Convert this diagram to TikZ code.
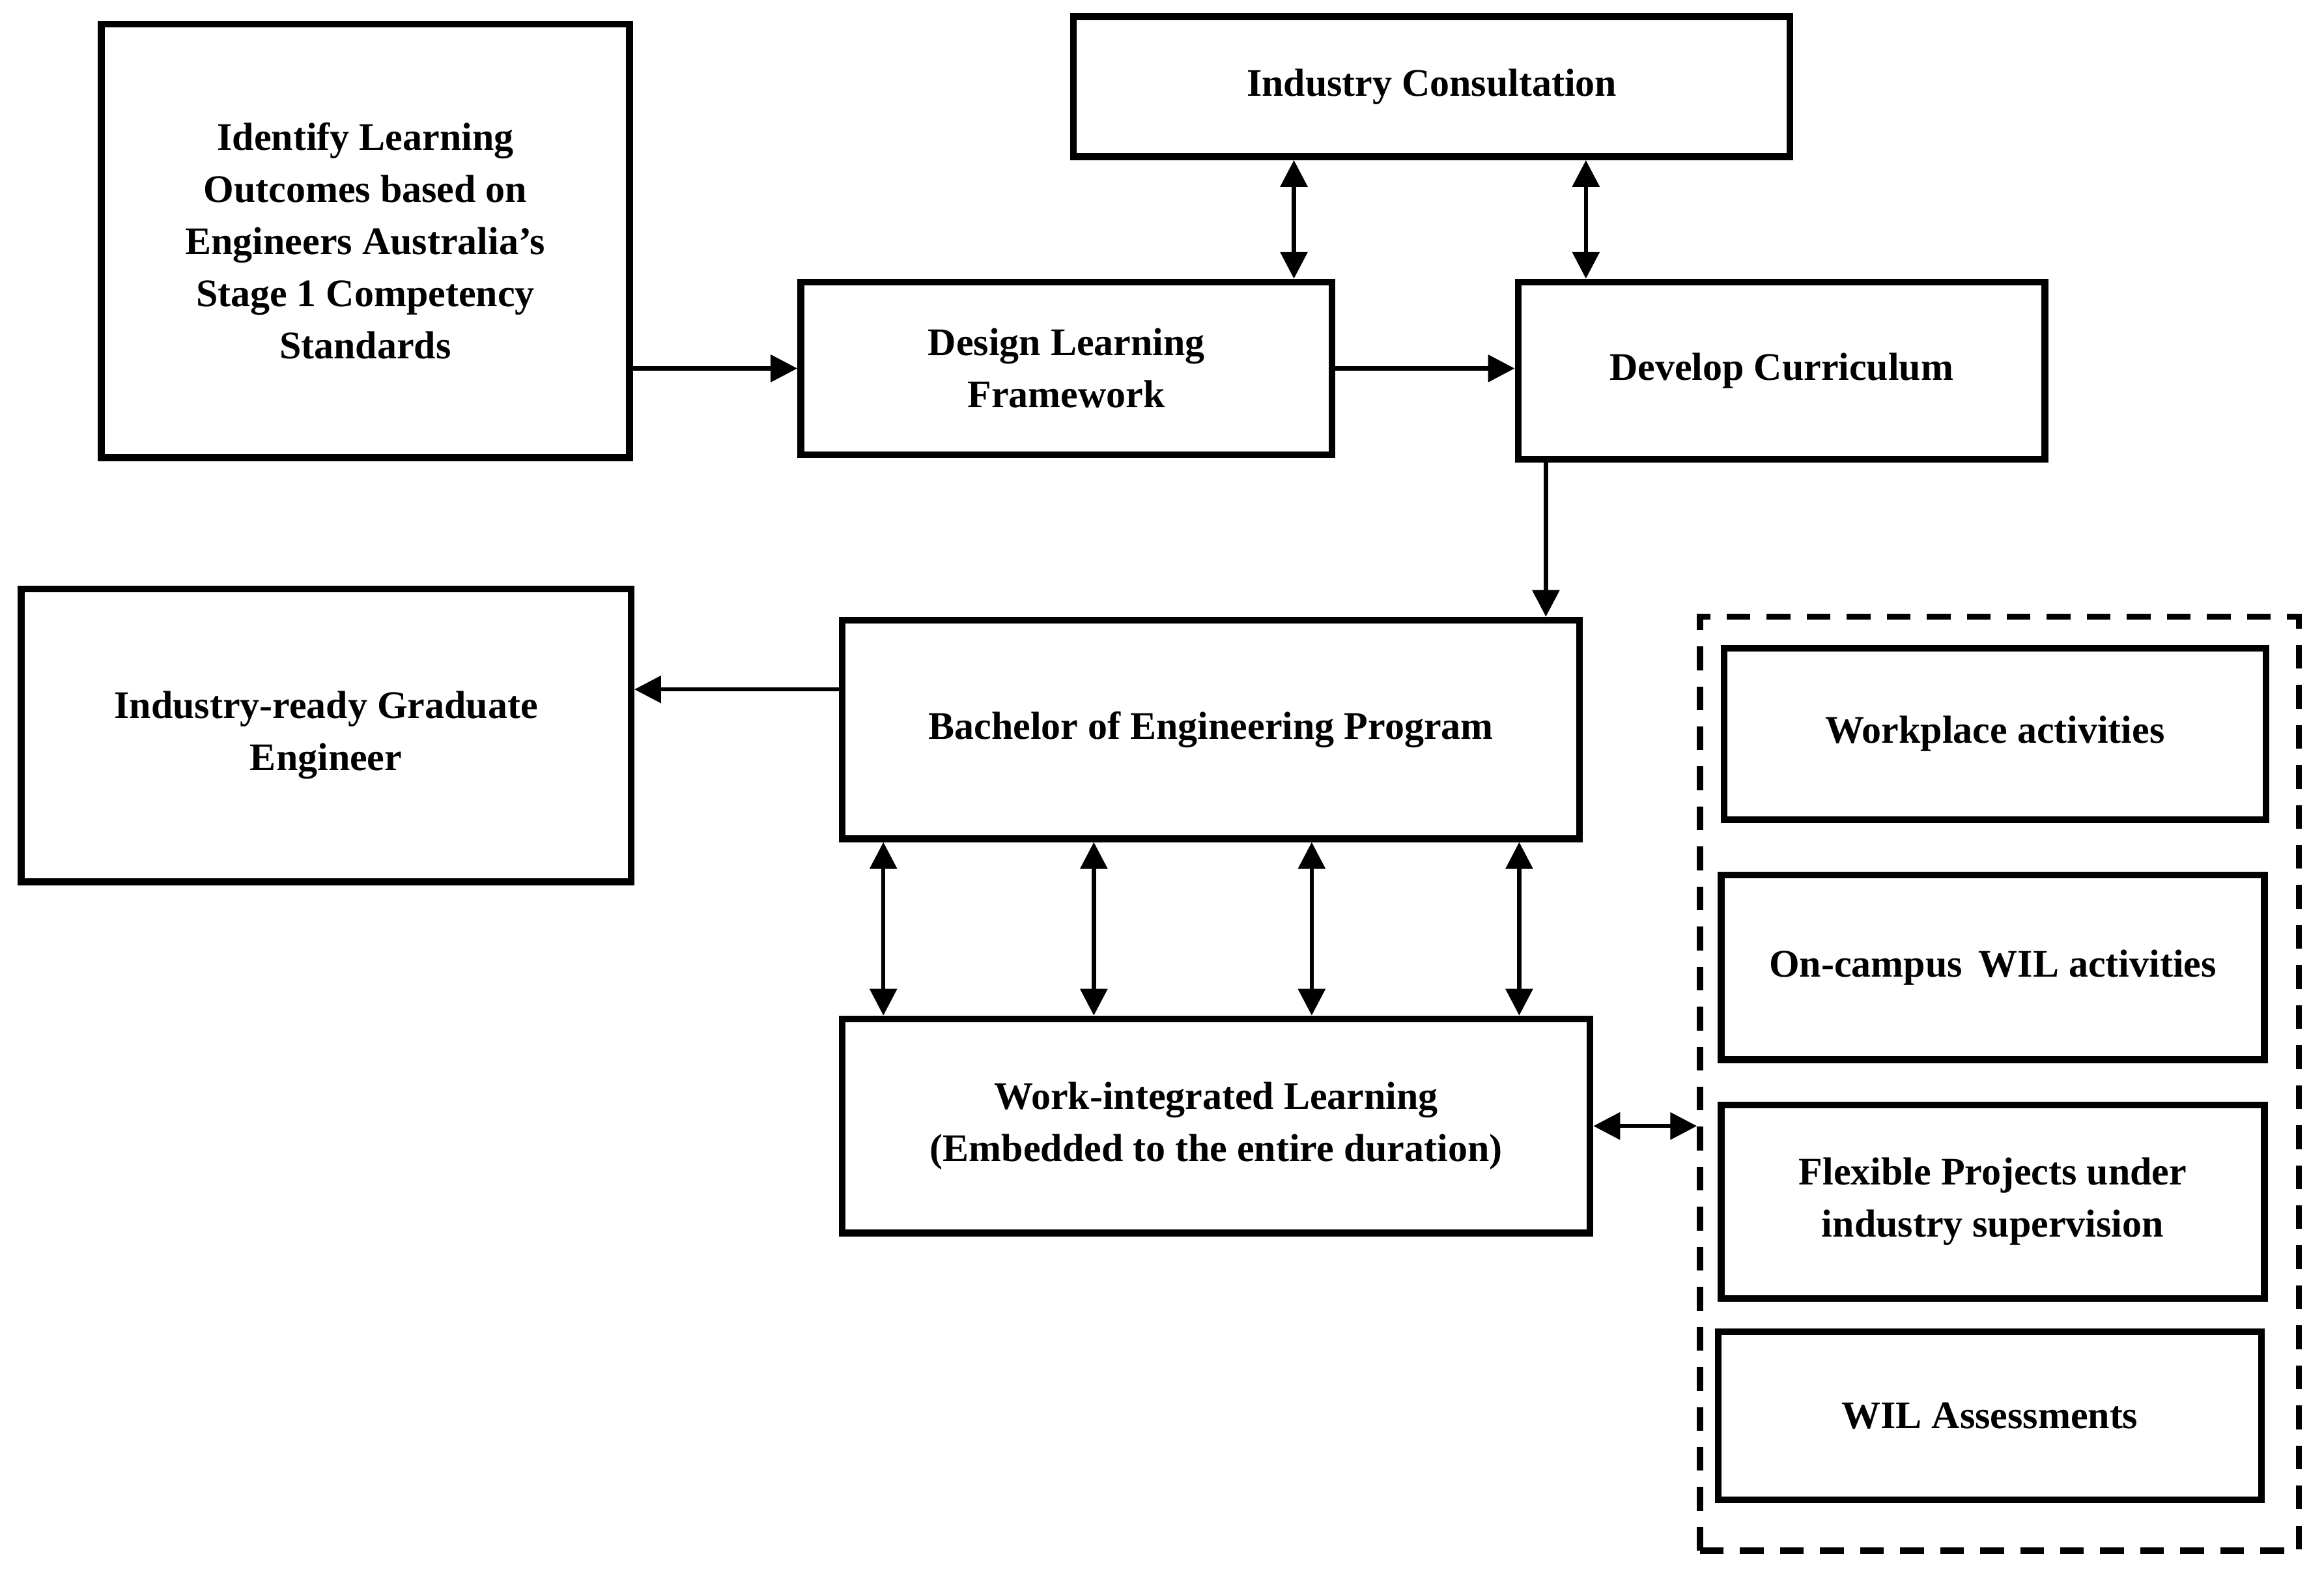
\documentclass[tikz,border=0pt]{standalone}
\usepackage{fontspec}
\setmainfont{Liberation Serif}
\usetikzlibrary{arrows.meta}

\begin{document}
\begin{tikzpicture}
    \tikzstyle{block} = [rectangle, draw, line width=2.6pt, align=center, inner sep=2pt, font=\bfseries\fontsize{15}{20}\selectfont]
    \tikzstyle{link} = [line width=1.6pt, -{Triangle[length=0.36cm,width=0.36cm]}]
    \tikzstyle{both} = [line width=1.6pt, {Triangle[length=0.36cm,width=0.36cm]}-{Triangle[length=0.36cm,width=0.36cm]}]

    \useasboundingbox (0,0) rectangle (31.36,-21.28);

    % top row
    \node[block, minimum width=7.13cm, minimum height=5.85cm] (ident) at (4.93,-3.25) {Identify Learning\\ Outcomes based on\\ Engineers Australia’s\\ Stage 1 Competency\\ Standards};
    \node[block, minimum width=9.67cm, minimum height=1.89cm] (consult) at (19.32,-1.17) {Industry Consultation};
    \node[block, minimum width=7.17cm, minimum height=2.33cm] (design) at (14.39,-4.97) {Design Learning\\ Framework};
    \node[block, minimum width=7.11cm, minimum height=2.39cm] (develop) at (24.04,-5.00) {Develop Curriculum};

    % program
    \node[block, minimum width=8.23cm, minimum height=3.95cm] (grad) at (4.40,-9.92) {Industry-ready Graduate\\ Engineer};
    \node[block, minimum width=9.95cm, minimum height=2.95cm] (bach) at (16.34,-9.84) {Bachelor of Engineering Program};
    \node[block, minimum width=10.09cm, minimum height=2.89cm] (wil) at (16.41,-15.19) {Work-integrated Learning\\ (Embedded to the entire duration)};

    % WIL components
    \node[draw, line width=2.4pt, dash pattern=on 0.32cm off 0.22cm, minimum width=8.08cm, minimum height=12.6cm] (wilgroup) at (26.98,-14.62) {};
    \node[block, minimum width=7.31cm, minimum height=2.31cm] (work) at (26.92,-9.90) {Workplace activities};
    \node[block, minimum width=7.33cm, minimum height=2.49cm] (campus) at (26.89,-13.05) {On-campus\, WIL activities};
    \node[block, minimum width=7.33cm, minimum height=2.61cm] (flex) at (26.89,-16.21) {Flexible Projects under\\ industry supervision};
    \node[block, minimum width=7.33cm, minimum height=2.27cm] (assess) at (26.85,-19.10) {WIL Assessments};

    \draw[link] (ident.east |- design.west) -- (design.west);
    \draw[link] (design.east) -- (design.east -| develop.west);
    \draw[both] ([xshift=3.07cm]design.north) -- ([xshift=3.07cm]design.north |- consult.south);
    \draw[both] ([xshift=-2.64cm]develop.north) -- ([xshift=-2.64cm]develop.north |- consult.south);
    \draw[link] ([xshift=-3.18cm]develop.south) -- ([xshift=-3.18cm]develop.south |- bach.north);
    \draw[link] ([yshift=0.54cm]bach.west) -- ([yshift=0.54cm]bach.west -| grad.east);
    \foreach \dx in {-4.42,-1.58,1.36,4.16}
        \draw[both] ([xshift=\dx cm]bach.south) -- ([xshift=\dx cm]bach.south |- wil.north);
    \draw[both] (wil.east) -- (wil.east -| wilgroup.west);
\end{tikzpicture}
\end{document}
